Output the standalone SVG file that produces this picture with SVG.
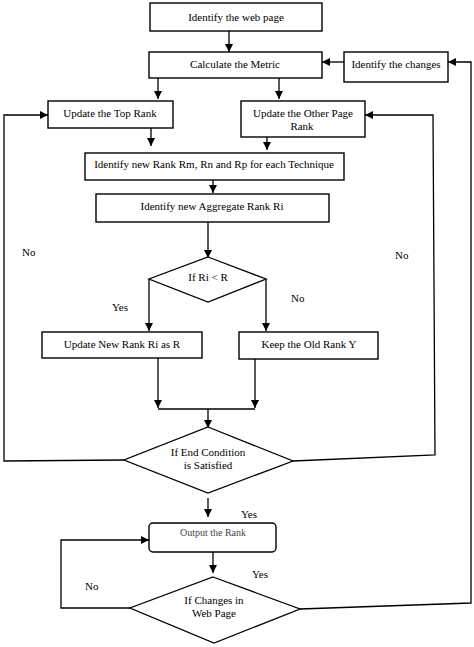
<svg xmlns="http://www.w3.org/2000/svg" width="474" height="647" viewBox="0 0 474 647">
<defs>
<marker id="ah" markerUnits="userSpaceOnUse" markerWidth="8" markerHeight="8" viewBox="0 0 8 8" refX="8" refY="4" orient="auto">
<path d="M0,0 L8,4 L0,8 Z" fill="#000"/>
</marker>
</defs>
<style>
.box{fill:#fff;stroke:#000;stroke-width:1.4}
.dia{fill:#fff;stroke:#000;stroke-width:1.3}
text{font-family:'Liberation Serif','Times New Roman',Times,'DejaVu Serif',serif;font-size:11px;fill:#000}
.t{text-anchor:middle}
.c{fill:none;stroke:#000;stroke-width:1.3}
.a{fill:none;stroke:#000;stroke-width:1.3;marker-end:url(#ah)}
</style>
<rect width="474" height="647" fill="#fff"/>
<g id="connectors">
<path class="a" d="M229,31 L229,52"/>
<path class="a" d="M344,62 L322,62"/>
<path class="a" d="M158,78 L158,99"/>
<path class="a" d="M279,78 L279,99"/>
<path class="a" d="M151,128 L151,146"/>
<path class="a" d="M267,137 L267,150"/>
<path class="a" d="M213,180 L213,193"/>
<path class="a" d="M208,222 L208,258"/>
<path class="a" d="M149,279 L149,331"/>
<path class="a" d="M266,279 L266,331"/>
<path class="a" d="M158,358 L158,408"/>
<path class="a" d="M255,359 L255,408"/>
<path class="c" d="M158,409 L255,409"/>
<path class="a" d="M208,409 L208,428"/>
<path class="a" d="M124,460 L4,461 L4,115 L48,115"/>
<path class="a" d="M293,461 L435,455 L433,115 L365,115"/>
<path class="a" d="M208,498 L208,517"/>
<path class="a" d="M213,552 L213,573"/>
<path class="a" d="M130,608 L61,608 L61,540 L149,540"/>
<path class="a" d="M300,609 L471,603 L471,62 L448,62"/>
</g>
<g id="n-identify-web">
<rect class="box" x="150" y="3" width="172" height="28"/>
<text class="t" x="236" y="21" font-family="Liberation Serif, serif">Identify the web page</text>
</g>
<g id="n-calc-metric">
<rect class="box" x="149" y="52" width="173" height="26"/>
<text class="t" x="235" y="68">Calculate the Metric</text>
</g>
<g id="n-identify-changes">
<rect class="box" x="344" y="52" width="104" height="30"/>
<text class="t" x="396" y="68">Identify the changes</text>
</g>
<g id="n-top-rank">
<rect class="box" x="48" y="101" width="125" height="27"/>
<text class="t" x="110" y="117">Update the Top Rank</text>
</g>
<g id="n-other-rank">
<rect class="box" x="241" y="101" width="124" height="36"/>
<text class="t" x="303" y="117">Update the Other Page</text>
<text class="t" x="302" y="130">Rank</text>
</g>
<g id="n-new-rank">
<rect class="box" x="85" y="153" width="259" height="27"/>
<text class="t" x="214" y="168">Identify new Rank Rm, Rn and Rp for each Technique</text>
</g>
<g id="n-aggregate">
<rect class="box" x="96" y="194" width="233" height="28"/>
<text class="t" x="212" y="210">Identify new Aggregate Rank Ri</text>
</g>
<g id="n-if-ri">
<polygon class="dia" points="208,257 266,279 208,302 149,279"/>
<text class="t" x="208" y="281">If Ri &lt; R</text>
</g>
<g id="n-update-new">
<rect class="box" x="42" y="332" width="160" height="26"/>
<text class="t" x="122" y="348">Update New Rank Ri as R</text>
</g>
<g id="n-keep-old">
<rect class="box" x="239" y="332" width="139" height="27"/>
<text class="t" x="309" y="348">Keep the Old Rank Y</text>
</g>
<g id="n-end-cond">
<polygon class="dia" points="208,427 293,461 208,493 124,460"/>
<text class="t" x="208" y="456">If End Condition</text>
<text class="t" x="208" y="469">is Satisfied</text>
</g>
<g id="n-output">
<rect class="box" x="149" y="523" width="127" height="29" rx="4"/>
<text class="t" x="213" y="536" style="font-size:10px;fill:#444">Output the Rank</text>
</g>
<g id="n-if-changes">
<polygon class="dia" points="213,577 300,609 214,643 130,608"/>
<text class="t" x="214" y="604">If Changes in</text>
<text class="t" x="214" y="617">Web Page</text>
</g>
<g id="labels">
<text x="22" y="256">No</text>
<text x="395" y="259">No</text>
<text x="112" y="311">Yes</text>
<text x="291" y="302">No</text>
<text x="241" y="518">Yes</text>
<text x="252" y="578">Yes</text>
<text x="85" y="590">No</text>
</g>
</svg>
